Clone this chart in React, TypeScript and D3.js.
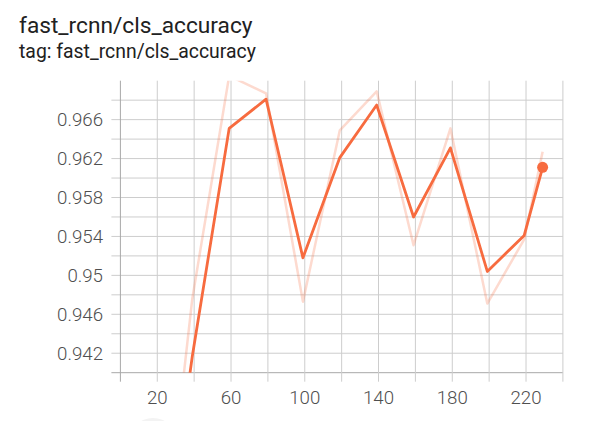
import React from "react";
import * as d3 from "d3";

// steps logged every 20 iterations, last one at 229
const steps = [ 19, 39, 59, 79, 99, 119, 139, 159, 179, 199, 219, 229 ];
const rawValues = [ 0.914, 0.9476, 0.9705, 0.9687, 0.9473, 0.9649, 0.9689, 0.9531, 0.9651, 0.9471, 0.9537, 0.9627 ];
const smoothedValues = [ 0.914, 0.9417, 0.9651, 0.9681, 0.9518, 0.9621, 0.9675, 0.956, 0.9631, 0.9504, 0.9541, 0.9611 ];

const xGrid = [ 0, 20, 40, 60, 80, 100, 120, 140, 160, 180, 200, 220, 240 ];
const xTickLabels = [ 20, 60, 100, 140, 180, 220 ];
const yTickLabels = [ 0.942, 0.946, 0.95, 0.954, 0.958, 0.962, 0.966 ];

const W = 603;
const H = 421;
const m = { top: 80.7, right: 40.1, bottom: 48.3, left: 120.4 };
const LINE = "#f76b3f";
const FONT = "Roboto, 'Noto Sans', sans-serif";

export default function App ()
{
    const x = d3.scaleLinear().domain( [ 0, 240 ] ).range( [ m.left, W - m.right ] );
    const y = d3.scaleLinear().domain( [ 0.94, 0.97 ] ).range( [ H - m.bottom, m.top ] );
    const yGrid = y.ticks( 15 ).filter( ( v ) => v < 0.9699 );

    const pts = steps.map( ( s, i ) => ( { s, raw: rawValues[ i ], sm: smoothedValues[ i ] } ) );
    const rawLine = d3.line<any>().x( ( d ) => x( d.s ) ).y( ( d ) => y( d.raw ) );
    const smLine = d3.line<any>().x( ( d ) => x( d.s ) ).y( ( d ) => y( d.sm ) );
    const last = pts[ pts.length - 1 ];

    const [ x0, x1 ] = x.range();
    const [ yb, yt ] = y.range();

    return (
        <div style={ { position: "absolute", left: 0, top: 0, width: W, height: H, background: "#fff" } }>
            <svg width={ W } height={ H } style={ { display: "block" } }>
                <defs>
                    <clipPath id="plot">
                        <rect x={ x0 } y={ yt } width={ x1 - x0 } height={ yb - yt } />
                    </clipPath>
                </defs>

                <text x={ 19 } y={ 33 } fontFamily={ FONT } fontSize={ 22.7 } fill="#212121">fast_rcnn/cls_accuracy</text>
                <text x={ 19 } y={ 58 } fontFamily={ FONT } fontSize={ 19.4 } fill="#212121">tag: fast_rcnn/cls_accuracy</text>

                {/* grid */ }
                { yGrid.map( ( v ) => (
                    <line key={ "h" + v } x1={ x0 - 9 } x2={ x1 } y1={ y( v ) } y2={ y( v ) }
                        stroke={ v === 0.94 ? "#a8a8a8" : "#cdcdcd" } strokeWidth={ 1 } />
                ) ) }
                { xGrid.map( ( v ) => (
                    <line key={ "v" + v } x1={ x( v ) } x2={ x( v ) } y1={ yt } y2={ yb + 9 }
                        stroke={ v === 0 ? "#a8a8a8" : "#cdcdcd" } strokeWidth={ 1 } />
                ) ) }

                {/* tick labels */ }
                { yTickLabels.map( ( v ) => (
                    <text key={ "yl" + v } x={ 103 } y={ y( v ) } dy="0.35em" textAnchor="end"
                        fontFamily={ FONT } fontWeight={ 300 } fontSize={ 18.7 } fill="#4f4f4f">{ String( v ) }</text>
                ) ) }
                { xTickLabels.map( ( v ) => (
                    <text key={ "xl" + v } x={ x( v ) } y={ 404 } textAnchor="middle"
                        fontFamily={ FONT } fontWeight={ 300 } fontSize={ 18.7 } fill="#4f4f4f">{ v }</text>
                ) ) }

                {/* series */ }
                <g clipPath="url(#plot)">
                    <path d={ rawLine( pts ) || "" } fill="none" stroke={ LINE } strokeOpacity={ 0.25 } strokeWidth={ 2.5 } strokeLinejoin="round" />
                    <path d={ smLine( pts ) || "" } fill="none" stroke={ LINE } strokeWidth={ 2.8 } strokeLinejoin="round" />
                </g>
                <circle cx={ x( last.s ) } cy={ y( last.sm ) } r={ 5.5 } fill={ LINE } />

                {/* faint control bubble at the bottom edge */ }
                <circle cx={ 153 } cy={ 442 } r={ 24 } fill="#f3f3f3" />
            </svg>
        </div>
    );
}
